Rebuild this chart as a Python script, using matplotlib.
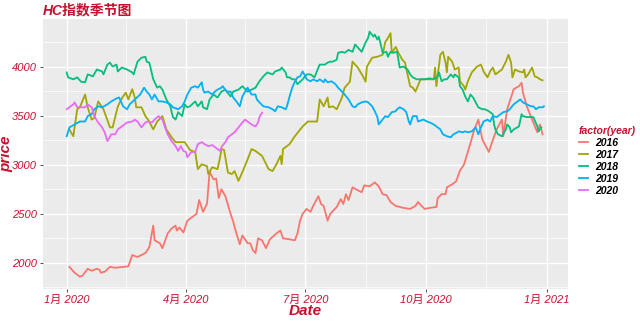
import numpy as np
import matplotlib
matplotlib.use("Agg")
import matplotlib.pyplot as plt
import matplotlib.dates as mdates

# day offsets from 2020-01-01 and prices
d2016 = [2, 6, 10, 12, 16, 19, 23, 25, 26, 29, 33, 37, 40, 44, 47, 50, 54, 60, 63, 66, 67, 71, 73, 77, 80,
         83, 84, 86, 89, 92, 96, 99, 101, 104, 107, 109, 112, 114, 116, 118, 121, 125, 127, 129, 132, 134,
         138, 140, 142, 144, 146, 149, 152, 155, 160, 163, 165, 170, 174, 176, 178, 180, 183, 186, 188, 192,
         194, 196, 199, 201, 206, 209, 211, 213, 215, 218, 222, 225, 227, 231, 235, 238, 241, 244, 247, 251,
         257, 262, 266, 268, 270, 273, 277, 282, 283, 286, 289, 290, 294, 297, 300, 303, 306, 311, 314, 317,
         322, 325, 328, 332, 333, 336, 341, 345, 347, 348, 351, 355, 359, 361, 363]
p2016 = [1960, 1900, 1860, 1870, 1940, 1920, 1940, 1930, 1900, 1910, 1960, 1950, 1955, 1960, 1965, 2080, 2060,
         2100, 2160, 2380, 2230, 2200, 2150, 2300, 2350, 2380, 2330, 2360, 2310, 2430, 2470, 2500, 2640, 2520,
         2600, 2930, 2850, 2860, 2660, 2750, 2680, 2500, 2420, 2320, 2190, 2280, 2200, 2200, 2130, 2100, 2250,
         2230, 2150, 2240, 2300, 2330, 2250, 2240, 2230, 2300, 2430, 2500, 2550, 2520, 2580, 2680, 2600, 2580,
         2430, 2500, 2570, 2650, 2600, 2700, 2640, 2770, 2740, 2720, 2790, 2780, 2820, 2780, 2700, 2690, 2620,
         2580, 2560, 2550, 2580, 2620, 2590, 2550, 2560, 2570, 2660, 2700, 2700, 2770, 2800, 2830, 2940, 3000,
         3130, 3360, 3460, 3260, 3130, 3250, 3360, 3460, 3290, 3565, 3770, 3800, 3835, 3735, 3595, 3460, 3330,
         3410, 3310]

d2017 = [2, 5, 8, 10, 14, 16, 19, 21, 24, 28, 33, 35, 39, 42, 45, 47, 50, 52, 53, 57, 60, 62, 66, 69, 73, 76,
         80, 83, 86, 90, 94, 98, 100, 103, 107, 108, 111, 115, 117, 118, 120, 123, 126, 128, 131, 134, 138, 141,
         144, 149, 154, 157, 160, 163, 164, 165, 167, 170, 174, 180, 184, 188, 191, 193, 196, 199, 200, 203, 206,
         210, 212, 216, 218, 222, 226, 228, 229, 233, 237, 241, 243, 245, 247, 248, 251, 253, 256, 258, 262, 264,
         266, 270, 273, 280, 281, 282, 285, 287, 289, 290, 291, 294, 296, 299, 300, 303, 304, 306, 309, 313, 316,
         318, 321, 323, 325, 327, 329, 332, 335, 337, 339, 340, 342, 345, 348, 349, 350, 352, 355, 357, 359, 361,
         363]
p2017 = [3360, 3290, 3565, 3585, 3715, 3585, 3460, 3475, 3645, 3565, 3380, 3380, 3595, 3675, 3735, 3665, 3770,
         3680, 3585, 3585, 3495, 3460, 3360, 3440, 3495, 3360, 3280, 3230, 3230, 3230, 3150, 3130, 2955, 3005,
         2985, 2905, 2975, 2955, 3075, 3160, 3150, 2920, 2905, 2935, 2835, 2925, 3055, 3160, 3140, 3090, 2955,
         2935, 3005, 3090, 3005, 3160, 3180, 3210, 3290, 3390, 3440, 3440, 3440, 3665, 3595, 3685, 3585, 3595,
         3565, 3685, 3785, 3845, 4050, 3990, 3900, 3845, 4000, 4090, 4100, 4120, 4250, 4290, 4340, 4140, 4200,
         4140, 4070, 4040, 3800, 3785, 3745, 3870, 3870, 3870, 3990, 3800, 4120, 4150, 4040, 3940, 4100, 4050,
         3970, 3990, 3850, 3800, 3765, 3850, 3940, 4000, 4020, 3950, 3890, 3950, 3990, 3920, 3940, 3970, 4050,
         4120, 4040, 3890, 3970, 3950, 3940, 3970, 3890, 3920, 3990, 3900, 3890, 3870, 3860]

d2018 = [0, 1, 5, 8, 11, 14, 16, 20, 23, 27, 28, 31, 33, 35, 38, 39, 42, 46, 50, 51, 54, 57, 60, 61, 63, 66, 69,
         71, 73, 76, 79, 81, 83, 85, 88, 90, 92, 94, 98, 100, 103, 104, 107, 109, 112, 115, 118, 121, 125, 127,
         131, 134, 138, 141, 144, 147, 150, 153, 157, 159, 163, 164, 167, 168, 170, 172, 174, 176, 180, 183, 186,
         189, 192, 193, 197, 199, 201, 203, 206, 207, 210, 212, 215, 218, 220, 222, 225, 228, 230, 231, 234, 235,
         237, 238, 239, 241, 244, 245, 247, 249, 252, 254, 257, 260, 262, 264, 267, 270, 273, 277, 280, 283, 284,
         286, 288, 290, 293, 295, 296, 299, 300, 302, 304, 306, 308, 310, 312, 314, 317, 319, 322, 325, 326, 327,
         329, 332, 335, 336, 338, 339, 341, 345, 347, 348, 351, 354, 356, 359, 360, 362]
p2018 = [3940, 3890, 3870, 3890, 3845, 3840, 3920, 3900, 3970, 3950, 3920, 4020, 4040, 4000, 4020, 3950, 3990,
         3970, 3940, 3920, 4050, 4090, 4100, 4050, 4040, 3870, 3785, 3800, 3765, 3665, 3595, 3485, 3460, 3535,
         3495, 3615, 3585, 3595, 3645, 3595, 3645, 3585, 3565, 3665, 3715, 3685, 3745, 3765, 3695, 3745, 3765,
         3800, 3745, 3765, 3785, 3850, 3900, 3940, 3920, 3950, 3970, 3990, 3940, 3890, 3890, 3870, 3870, 3820,
         3870, 3920, 3920, 3890, 3990, 4020, 4020, 4040, 4050, 4050, 4070, 4140, 4150, 4140, 4170, 4150, 4225,
         4195, 4150, 4245, 4295, 4355, 4305, 4325, 4275, 4305, 4255, 4140, 4150, 4100, 4150, 4140, 4150, 3990,
         4000, 3970, 3920, 3890, 3870, 3870, 3870, 3880, 3870, 3900, 3940, 3850, 3870, 3870, 3920, 3890, 3920,
         3890, 3800, 3765, 3695, 3645, 3715, 3685, 3635, 3585, 3565, 3565, 3545, 3515, 3410, 3360, 3310, 3290,
         3360, 3410, 3380, 3330, 3360, 3390, 3515, 3495, 3485, 3485, 3485, 3390, 3340, 3380]

d2019 = [0, 2, 6, 10, 14, 16, 19, 21, 24, 27, 31, 34, 38, 40, 43, 46, 48, 52, 56, 59, 61, 63, 65, 67, 70, 73, 76,
         79, 81, 85, 88, 90, 92, 95, 98, 100, 103, 104, 105, 108, 111, 113, 115, 118, 119, 122, 125, 127, 130,
         132, 134, 137, 138, 141, 144, 145, 147, 150, 154, 157, 159, 161, 164, 167, 168, 170, 172, 174, 176, 178,
         180, 182, 183, 186, 188, 191, 193, 196, 197, 199, 202, 205, 207, 210, 212, 215, 218, 220, 222, 225, 228,
         230, 233, 235, 237, 238, 241, 243, 245, 248, 251, 252, 254, 257, 259, 261, 262, 264, 267, 268, 272, 275,
         277, 280, 283, 285, 287, 290, 293, 295, 298, 299, 302, 304, 306, 309, 312, 314, 316, 318, 321, 323, 325,
         328, 331, 333, 336, 338, 341, 344, 346, 348, 351, 354, 356, 358, 360, 363, 364]
p2019 = [3290, 3380, 3410, 3440, 3440, 3495, 3515, 3565, 3595, 3585, 3615, 3645, 3675, 3685, 3595, 3565, 3615,
         3665, 3715, 3785, 3745, 3715, 3665, 3715, 3645, 3645, 3635, 3615, 3585, 3565, 3595, 3645, 3715, 3785,
         3800, 3785, 3840, 3765, 3735, 3745, 3715, 3745, 3765, 3785, 3800, 3745, 3745, 3685, 3635, 3595, 3695,
         3765, 3785, 3715, 3715, 3665, 3635, 3595, 3585, 3565, 3545, 3595, 3585, 3565, 3595, 3695, 3785, 3845,
         3890, 3900, 3950, 3900, 3870, 3850, 3870, 3850, 3870, 3840, 3870, 3840, 3850, 3820, 3785, 3745, 3715,
         3665, 3595, 3585, 3615, 3635, 3645, 3635, 3595, 3545, 3485, 3410, 3460, 3495, 3485, 3535, 3545, 3565,
         3585, 3565, 3535, 3440, 3410, 3495, 3495, 3440, 3460, 3440, 3430, 3410, 3380, 3360, 3310, 3290, 3280,
         3310, 3330, 3340, 3330, 3340, 3330, 3340, 3380, 3310, 3380, 3440, 3460, 3440, 3495, 3485, 3515, 3535,
         3545, 3565, 3615, 3645, 3665, 3635, 3615, 3595, 3595, 3565, 3585, 3585, 3595]

d2020 = [0, 2, 5, 6, 8, 10, 14, 16, 19, 21, 24, 27, 29, 31, 34, 37, 39, 42, 46, 50, 52, 54, 57, 60, 62, 65, 67,
         70, 73, 75, 77, 80, 83, 85, 87, 89, 91, 92, 95, 98, 100, 103, 105, 108, 111, 113, 115, 117, 118, 121,
         123, 126, 128, 131, 134, 136, 138, 139, 141, 144, 146, 147, 149]
p2020 = [3565, 3585, 3615, 3635, 3585, 3585, 3585, 3615, 3585, 3495, 3430, 3380, 3330, 3240, 3310, 3310, 3360,
         3390, 3430, 3440, 3460, 3440, 3380, 3430, 3440, 3430, 3460, 3495, 3460, 3380, 3310, 3240, 3190, 3140,
         3190, 3140, 3130, 3075, 3130, 3130, 3210, 3230, 3210, 3190, 3200, 3180, 3160, 3140, 3180, 3230, 3280,
         3310, 3330, 3380, 3430, 3460, 3440, 3430, 3410, 3390, 3430, 3485, 3530]

years = ['2016', '2017', '2018', '2019', '2020']
days = [d2016, d2017, d2018, d2019, d2020]
prices = [p2016, p2017, p2018, p2019, p2020]
colors = ['#F8766D', '#A3A500', '#00BF7D', '#00B0F6', '#E76BF3']

tick_dates = ['2020-01-01', '2020-04-01', '2020-07-01', '2020-10-01', '2021-01-01']
tick_labels = ['1月 2020', '4月 2020', '7月 2020', '10月 2020', '1月 2021']
minor_dates = ['2020-02-15', '2020-05-16', '2020-08-16', '2020-11-16']

red = '#C8102E'
fams = ['Liberation Sans', 'Noto Sans CJK SC']

base = np.datetime64('2020-01-01')
fig = plt.figure(figsize=(6.4, 3.21), dpi=100)
ax = fig.add_axes([0.067, 0.1, 0.8205, 0.841])
ax.set_facecolor('#EBEBEB')

for yr, d, p, c in zip(years, days, prices, colors):
    x = base + np.array(d).astype('timedelta64[D]')
    ax.plot(x, p, color=c, lw=1.3, label=yr, solid_joinstyle='round')

x0 = mdates.date2num(base)
ax.set_xlim(x0 - 18.2, x0 + 382.4)
ax.set_ylim(1735, 4485)

ax.set_xticks(mdates.date2num(np.array(tick_dates, dtype='datetime64[D]')))
ax.set_xticklabels(tick_labels)
ax.set_xticks(mdates.date2num(np.array(minor_dates, dtype='datetime64[D]')), minor=True)
ax.set_yticks([2000, 2500, 3000, 3500, 4000])
ax.set_yticks([1750, 2250, 2750, 3250, 3750, 4250], minor=True)

ax.grid(which='major', color='white', lw=1.0)
ax.grid(which='minor', color='white', lw=0.5)
ax.set_axisbelow(True)
for s in ax.spines.values():
    s.set_visible(False)
ax.tick_params(which='major', length=2.5, color='#333333', width=0.6, pad=2)
ax.tick_params(which='minor', length=0)
for lab in ax.get_xticklabels() + ax.get_yticklabels():
    lab.set_color(red)
    lab.set_fontstyle('italic')
    lab.set_fontsize(8)
    lab.set_family(fams)

ax.set_xlabel('Date', color=red, fontsize=11, fontweight='bold', fontstyle='italic', family=fams)
ax.xaxis.set_label_coords(0.5, -0.082)
ax.xaxis.label.set_va('center')
ax.set_ylabel('price', color=red, fontsize=11, fontweight='bold', fontstyle='italic', family=fams)
ax.yaxis.set_label_coords(-0.069, 0.5)
ax.yaxis.label.set_va('center')
fig.text(0.067, 0.968, 'HC指数季节图', color=red, fontsize=10, fontweight='bold',
         fontstyle='italic', family=fams, va='center', ha='left')

leg = fig.legend(loc='upper left', bbox_to_anchor=(0.898, 0.622), frameon=False,
                 handlelength=0.9, handletextpad=0.7, labelspacing=0.2, borderaxespad=0,
                 title='factor(year)', alignment='left', fontsize=7.5)
leg.get_title().set_color(red)
leg.get_title().set_fontweight('bold')
leg.get_title().set_fontstyle('italic')
leg.get_title().set_fontsize(7.5)
leg.get_title().set_family(fams)
for t in leg.get_texts():
    t.set_fontweight('bold')
    t.set_fontstyle('italic')
    t.set_family(fams)

fig.savefig('out.png', dpi=100)
